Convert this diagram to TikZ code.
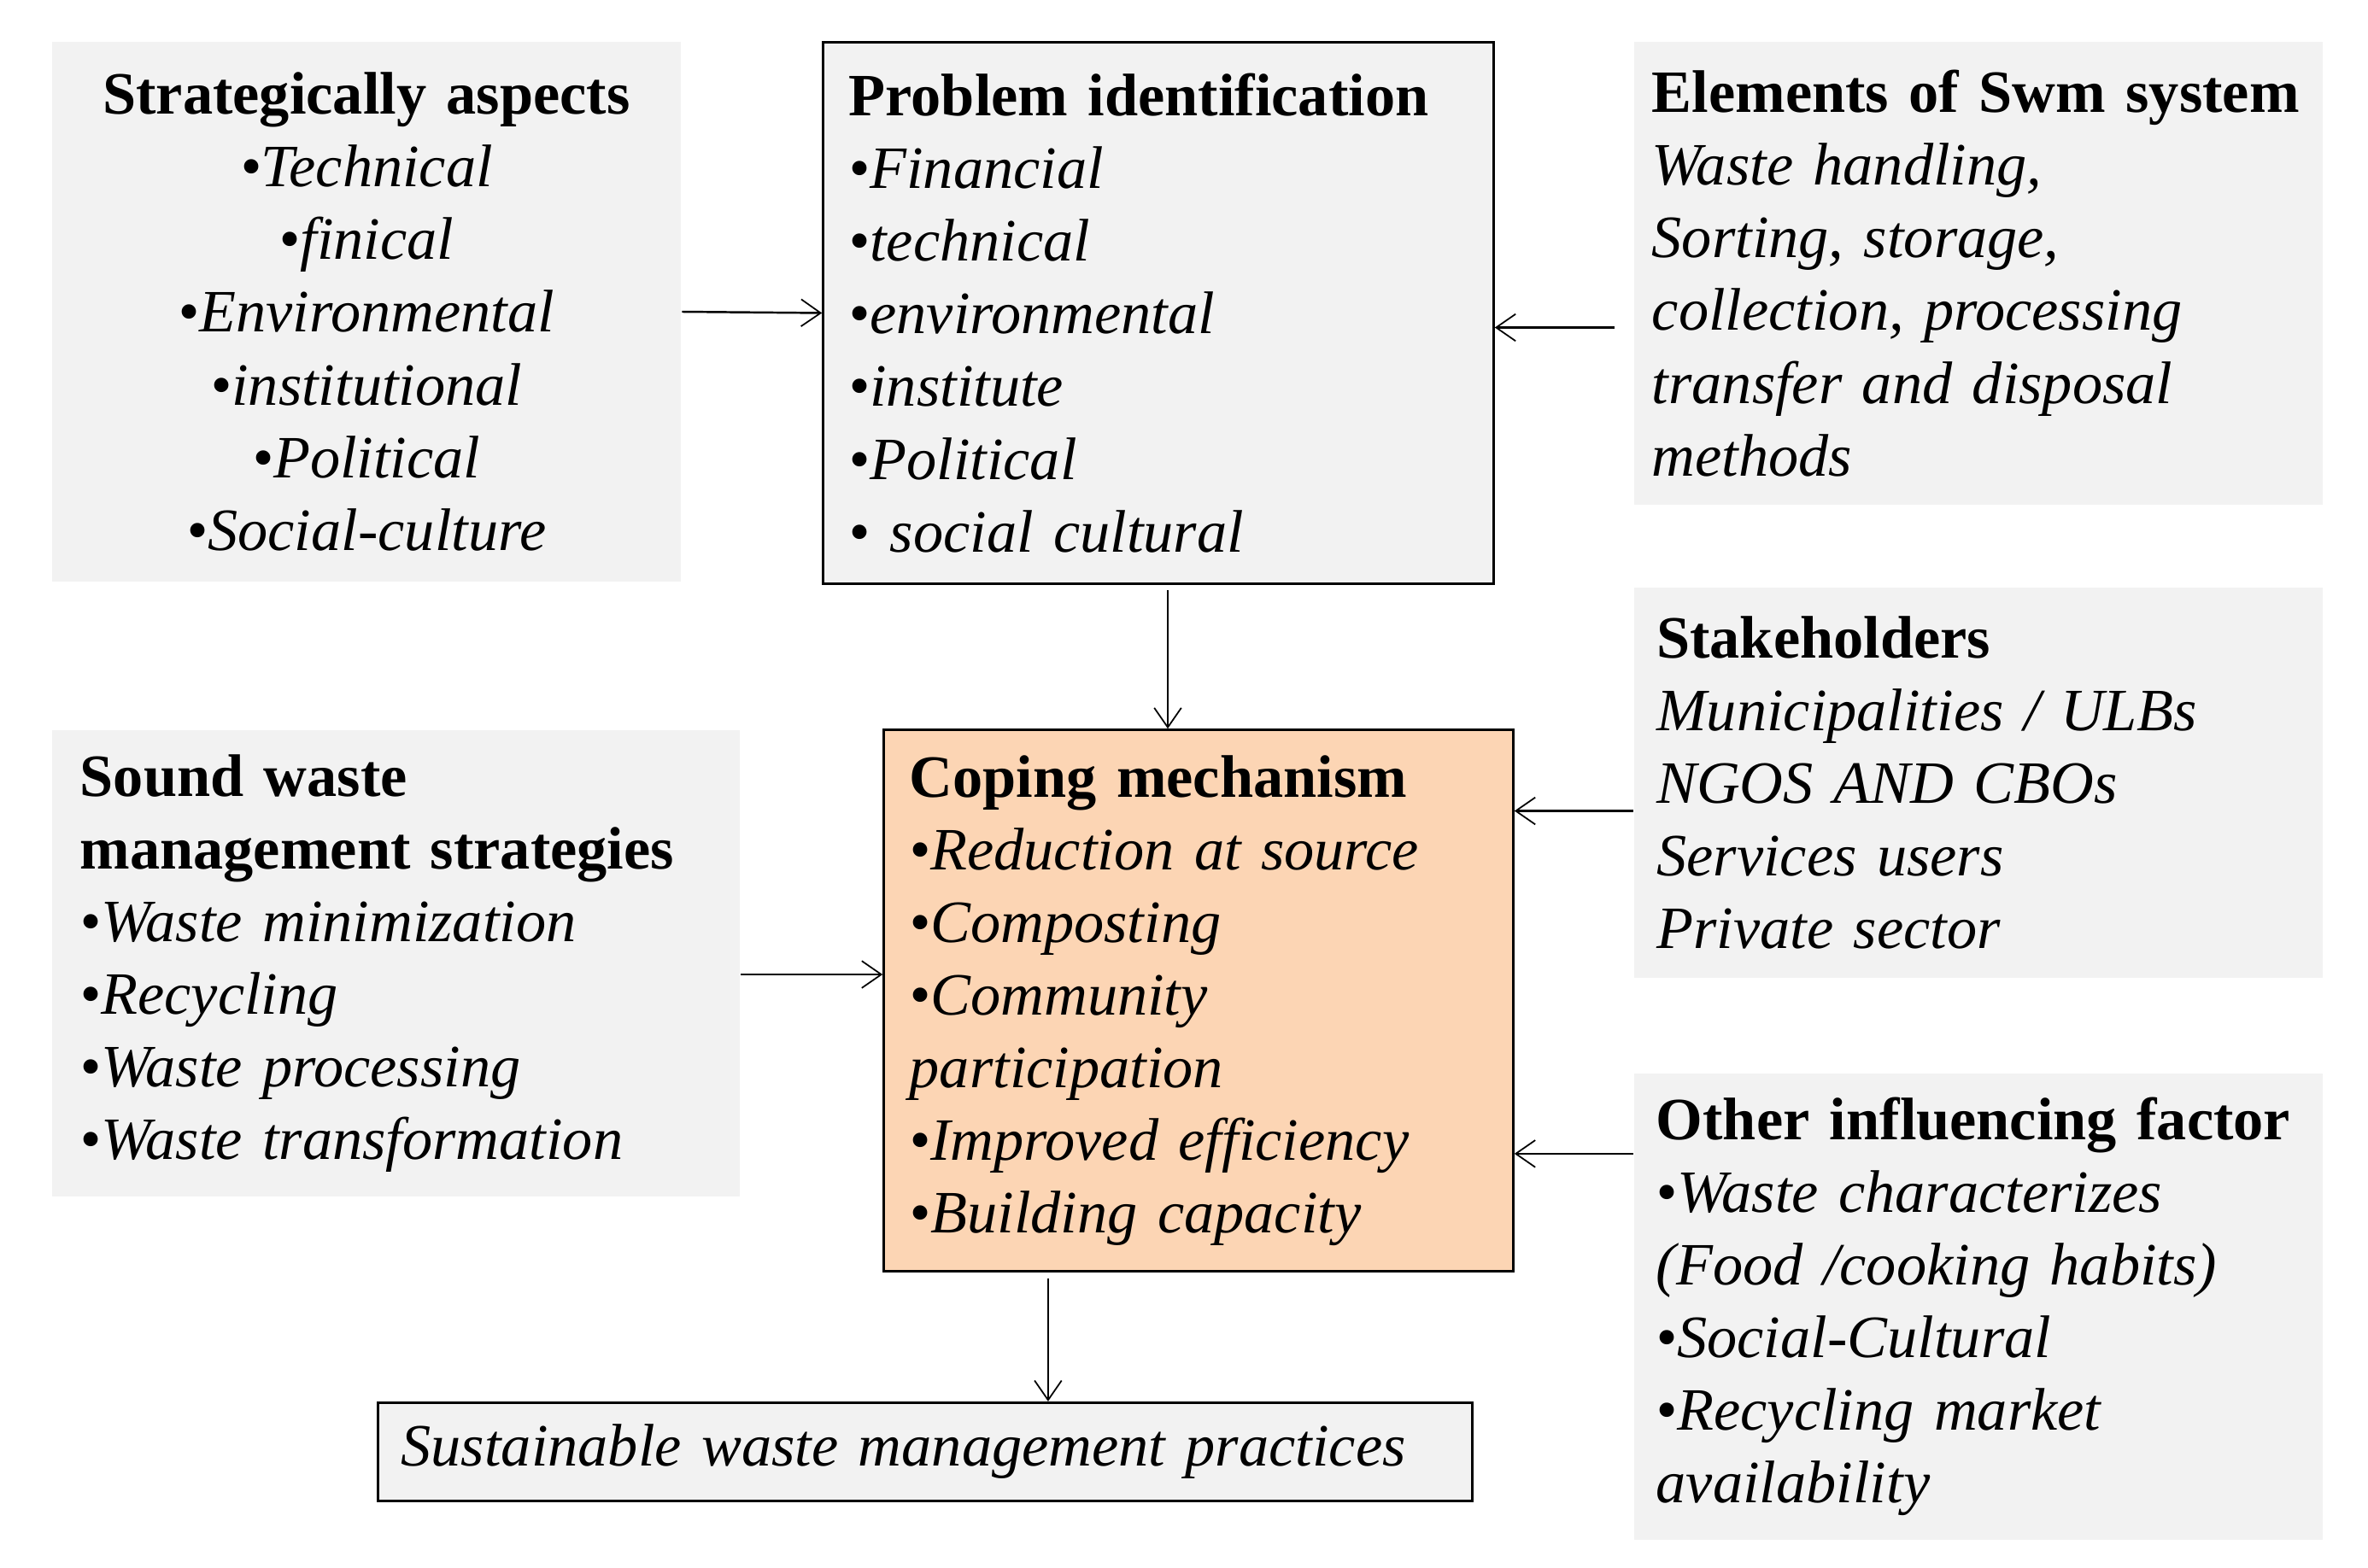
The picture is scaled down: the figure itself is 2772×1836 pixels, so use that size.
\documentclass[tikz,border=0pt]{standalone}
\usepackage{fontspec}
\setmainfont{Liberation Serif}
\usetikzlibrary{arrows.meta}
\hyphenpenalty=10000

\definecolor{panelgrey}{RGB}{242,242,242}
\definecolor{copingpeach}{RGB}{252,213,180}

\tikzset{
  panel/.style={fill=panelgrey, inner ysep=0pt, align=left,
    font=\fontsize{20}{24.2}\selectfont},
  framed/.style={panel, draw, line width=.9pt},
}
\newcommand{\heading}[1]{\textbf{#1}}

\begin{document}
\begin{tikzpicture}[x=0.01cm,y=-0.01cm,>={Straight Barb[length=6.5pt,width=9pt,line width=.5pt]},line width=.7pt]
\useasboundingbox (0,0) rectangle (2772,1836);

% top row
\node[panel, align=center, text width=6.76cm, inner xsep=.3cm, minimum height=6.32cm] (strat) at (429,365)
  {\heading{Strategically aspects}\\\itshape •Technical\\•finical\\•Environmental\\•institutional\\•Political\\•Social-culture};
\node[framed, text width=7.24cm, inner xsep=.3cm, minimum height=6.33cm] (probid) at (1356,366.5)
  {\heading{Problem identification}\\\itshape •Financial\\•technical\\•environmental\\•institute\\•Political\\• social cultural};
\node[panel, text width=7.64cm, inner xsep=.21cm, minimum height=5.42cm] (swmelem) at (2316,320)
  {\heading{Elements of Swm system}\\\itshape Waste handling,\\Sorting, storage,\\collection, processing\\transfer and disposal\\methods};

% middle row
\node[panel, text width=7.53cm, inner xsep=.265cm, minimum height=4.57cm] (stake) at (2316,916.5)
  {\heading{Stakeholders}\\\itshape Municipalities / ULBs\\NGOS AND CBOs\\Services users\\Private sector};
\node[panel, text width=7.39cm, inner xsep=.33cm, minimum height=5.46cm] (soundwm) at (463.5,1128)
  {\heading{Sound waste}\\\heading{management strategies}\\\itshape •Waste minimization\\•Recycling\\•Waste processing\\•Waste transformation};
\node[framed, fill=copingpeach, text width=6.76cm, inner xsep=.3cm, minimum height=6.33cm] (coping) at (1403,1171.5)
  {\heading{Coping mechanism}\\\itshape •Reduction at source\\•Composting\\•Community\\participation\\•Improved efficiency\\•Building capacity};
\node[panel, text width=7.54cm, inner xsep=.26cm, minimum height=5.46cm] (other) at (2316,1530)
  {\heading{Other influencing factor}\\\itshape •Waste characterizes\\(Food /cooking habits)\\•Social-Cultural\\•Recycling market\\availability};

% bottom
\node[framed, text width=12.26cm, inner xsep=.27cm, minimum height=1.15cm] (sustain) at (1083,1700)
  {\itshape Sustainable waste management practices};

% arrows
\draw[->] (strat.east) -- (probid.west);
\draw[->] ([xshift=-.22cm,yshift=-.17cm]swmelem.west |- probid.east) -- ([yshift=-.17cm]probid.east);
\draw[->] ([xshift=.11cm,yshift=-.06cm]probid.south) -- ([xshift=.11cm]probid.south |- coping.north);
\draw[->] ([yshift=-.13cm]soundwm.east) -- ([yshift=-.13cm]soundwm.east -| coping.west);
\draw[->] ([yshift=-.33cm]stake.west) -- ([yshift=-.33cm]stake.west -| coping.east);
\draw[->] ([yshift=1.79cm]other.west) -- ([yshift=1.79cm]other.west -| coping.east);
\draw[->] ([xshift=-1.76cm,yshift=-.07cm]coping.south) -- ([xshift=-1.76cm]coping.south |- sustain.north);
\end{tikzpicture}
\end{document}
